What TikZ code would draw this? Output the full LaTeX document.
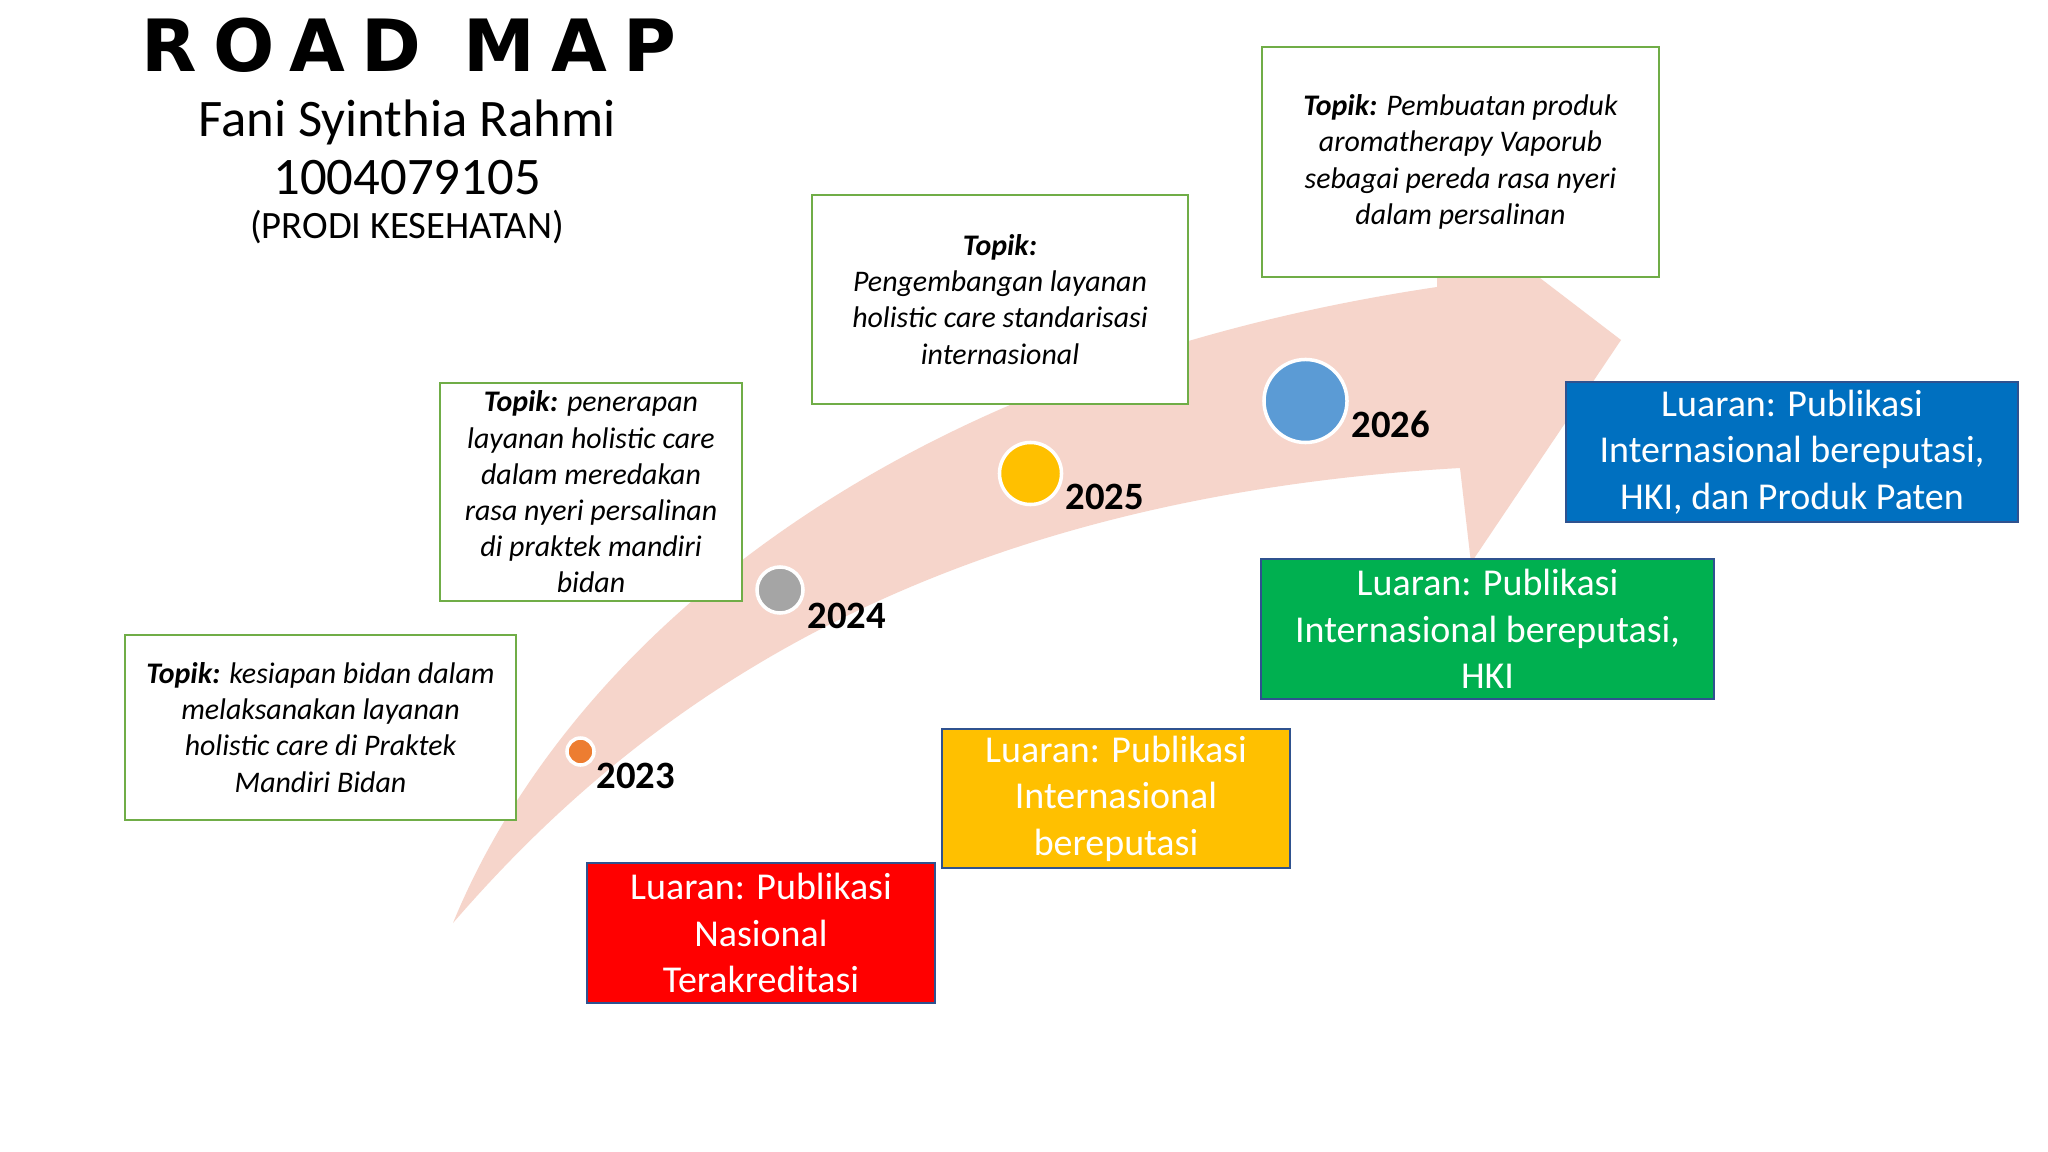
\documentclass[tikz,border=0pt]{standalone}
\usepackage{fontspec}
\setmainfont{Carlito}
\newfontfamily\titlefont[LetterSpace=23]{DejaVu Sans}
\usepackage{tikz}

\definecolor{arrowpink}{HTML}{F6D5CB}
\definecolor{topikgreen}{HTML}{70AD47}
\definecolor{luaranedge}{HTML}{2F528F}
\definecolor{dotorange}{HTML}{ED7D31}
\definecolor{dotgray}{HTML}{A5A5A5}
\definecolor{dotyellow}{HTML}{FFC000}
\definecolor{dotblue}{HTML}{5B9BD5}
\definecolor{outred}{HTML}{FF0000}
\definecolor{outyellow}{HTML}{FFC000}
\definecolor{outgreen}{HTML}{00B050}
\definecolor{outblue}{HTML}{0070C0}

\begin{document}
\begin{tikzpicture}[x=0.01cm,y=-0.01cm,
  topik/.style={draw=topikgreen,line width=0.7pt,fill=white,align=center,inner sep=0pt,font=\fontsize{8.5}{10.3}\selectfont\itshape},
  luaran/.style={draw=luaranedge,line width=0.7pt,text=white,align=center,inner sep=0pt,font=\fontsize{10.8}{13.2}\selectfont},
  dot/.style={circle,draw=white,line width=1pt,inner sep=0pt},
  year/.style={anchor=base west,inner sep=0pt,font=\fontsize{11}{13}\selectfont\bfseries}]
\fill[white] (0,0) rectangle (2048,1152);
\useasboundingbox (0,0) rectangle (2048,1152);
% curved arrow
\fill[arrowpink] (453,923) .. controls (565,650) and (880,370) .. (1437,287) -- (1438,200) -- (1621,340) -- (1471,563) -- (1460,468) .. controls (900,500) and (620,730) .. (453,923) -- cycle;
\node[anchor=base,font=\titlefont\bfseries\fontsize{20.5}{24}\selectfont] (judul) at (409,72) {ROAD MAP};
\node[anchor=base,font=\fontsize{15}{18}\selectfont] (nama) at (407,137) {Fani Syinthia Rahmi};
\node[anchor=base,font=\fontsize{15}{18}\selectfont] (nim) at (407,195) {1004079105};
\node[anchor=base,font=\fontsize{11}{13}\selectfont] (prodi) at (407,239) {(PRODI KESEHATAN)};
\node[topik,minimum width=3.91cm,minimum height=1.85cm] (topik23) at (320.5,727.5) {\textbf{Topik:} kesiapan bidan dalam\\melaksanakan layanan\\holistic care di Praktek\\Mandiri Bidan};
\node[topik,minimum width=3.02cm,minimum height=2.18cm] (topik24) at (591,492) {\textbf{Topik:} penerapan\\layanan holistic care\\dalam meredakan\\rasa nyeri persalinan\\di praktek mandiri\\bidan};
\node[topik,minimum width=3.76cm,minimum height=2.09cm] (topik25) at (1000,299.5) {\textbf{Topik:}\\Pengembangan layanan\\holistic care standarisasi\\internasional};
\node[topik,minimum width=3.97cm,minimum height=2.30cm] (topik26) at (1460.5,162) {\textbf{Topik:} Pembuatan produk\\aromatherapy Vaporub\\sebagai pereda rasa nyeri\\dalam persalinan};
\node[luaran,fill=outred,minimum width=3.48cm,minimum height=1.40cm] (luaran23) at (761,933) {Luaran: Publikasi\\Nasional\\Terakreditasi};
\node[luaran,fill=outyellow,minimum width=3.48cm,minimum height=1.39cm] (luaran24) at (1116,798.5) {Luaran: Publikasi\\Internasional\\bereputasi};
\node[luaran,fill=outgreen,minimum width=4.53cm,minimum height=1.40cm] (luaran25) at (1487.5,629) {Luaran: Publikasi\\Internasional bereputasi,\\HKI};
\node[luaran,fill=outblue,minimum width=4.52cm,minimum height=1.40cm] (luaran26) at (1792,452) {Luaran: Publikasi\\Internasional bereputasi,\\HKI, dan Produk Paten};
\node[dot,fill=dotorange,minimum size=0.27cm] (titik23) at (580.5,751.5) {};
\node[dot,fill=dotgray,minimum size=0.46cm] (titik24) at (780,590) {};
\node[dot,fill=dotyellow,minimum size=0.62cm] (titik25) at (1030.5,473.5) {};
\node[dot,fill=dotblue,minimum size=0.83cm] (titik26) at (1305.5,401) {};
\node[year] (th23) at (596,788) {2023};
\node[year] (th24) at (807,628) {2024};
\node[year] (th25) at (1065,510) {2025};
\node[year] (th26) at (1351,438) {2026};
\end{tikzpicture}
\end{document}
